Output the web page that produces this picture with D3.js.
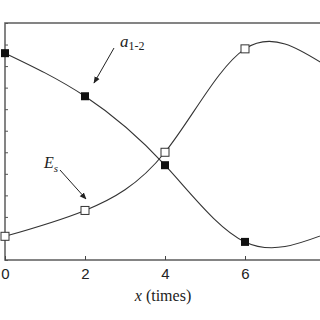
<!DOCTYPE html>
<html lang="en">
<head>
    <meta charset="UTF-8">
    <title>a1-2 and Es vs x</title>
    <style>
        body { margin: 0; padding: 0; background: #fff; overflow: hidden; }
        svg { display: block; font-family: "Liberation Serif", "DejaVu Serif", serif; }
        .tick text { font-size: 15px; fill: #222; }
    </style>
</head>
<body>
    <div id="chart"></div>
    <script src="https://d3js.org/d3.v7.min.js"></script>
    <script>
        // values (y in arbitrary units, 0..11)
        const xValues = [0, 2, 4, 6, 8];
        const aValues = [9.6, 7.6, 4.4, 0.84, 1.2];
        const esValues = [1.1, 2.3, 5.0, 9.8, 9.05];
        const xTicks = [0, 2, 4, 6]; // 8 sits past the right edge of the picture
        const yTicks = [0, 1, 2, 3, 4, 5, 6, 7, 8, 9, 10, 11];

        const width = 320, height = 320;
        const plotLeft = 5, plotRight = 325, plotTop = 23, plotBottom = 260;

        const svg = d3.select("#chart").append("svg")
            .attr("width", width)
            .attr("height", height);

        const x = d3.scaleLinear().domain([0, 8]).range([plotLeft, plotRight]);
        const y = d3.scaleLinear().domain([0, 11]).range([plotBottom, plotTop]);

        // frame
        svg.append("rect")
            .attr("x", plotLeft).attr("y", plotTop)
            .attr("width", plotRight - plotLeft).attr("height", plotBottom - plotTop)
            .attr("fill", "none")
            .attr("stroke", "#666")
            .attr("stroke-width", 1.6);

        // x axis
        const xAxis = svg.append("g")
            .attr("transform", `translate(0,${plotBottom})`)
            .call(d3.axisBottom(x).tickValues(xTicks).tickSize(-4).tickPadding(8).tickFormat(d3.format("d")));
        xAxis.select(".domain").remove();
        xAxis.selectAll(".tick line").attr("stroke", "#444");

        // y axis (ticks only, labels cut off)
        const yAxis = svg.append("g")
            .attr("transform", `translate(${plotLeft},0)`)
            .call(d3.axisLeft(y).tickValues(yTicks).tickSize(-3).tickFormat(""));
        yAxis.select(".domain").remove();
        yAxis.selectAll(".tick line").attr("stroke", "#555");

        const line = d3.line()
            .x((d, i) => x(xValues[i]))
            .y(d => y(d))
            .curve(d3.curveNatural);

        svg.append("path").datum(aValues)
            .attr("d", line)
            .attr("fill", "none").attr("stroke", "#333").attr("stroke-width", 1.1);
        svg.append("path").datum(esValues)
            .attr("d", line)
            .attr("fill", "none").attr("stroke", "#333").attr("stroke-width", 1.1);

        const sq = 8;
        svg.append("g").selectAll("rect")
            .data(aValues)
            .enter().append("rect")
            .attr("x", (d, i) => x(xValues[i]) - sq / 2)
            .attr("y", d => y(d) - sq / 2)
            .attr("width", sq).attr("height", sq)
            .attr("fill", "#111");
        svg.append("g").selectAll("rect")
            .data(esValues)
            .enter().append("rect")
            .attr("x", (d, i) => x(xValues[i]) - sq / 2)
            .attr("y", d => y(d) - sq / 2)
            .attr("width", sq).attr("height", sq)
            .attr("fill", "#fff").attr("stroke", "#333").attr("stroke-width", 1);

        // x label
        const xl = svg.append("text")
            .attr("x", 163).attr("y", 301)
            .attr("text-anchor", "middle")
            .attr("font-size", 16).attr("fill", "#222");
        xl.append("tspan").attr("font-style", "italic").text("x");
        xl.append("tspan").text(" (times)");

        // annotations
        svg.append("defs").append("marker")
            .attr("id", "arrow")
            .attr("viewBox", "0 0 10 10")
            .attr("refX", 9).attr("refY", 5)
            .attr("markerWidth", 7).attr("markerHeight", 7)
            .attr("orient", "auto")
            .append("path").attr("d", "M0,1L10,5L0,9Z").attr("fill", "#222");

        const a = svg.append("text").attr("x", 120).attr("y", 47).attr("fill", "#222");
        a.append("tspan").attr("font-style", "italic").attr("font-size", 17).text("a");
        a.append("tspan").attr("font-size", 12).attr("dy", 3).text("1-2");
        svg.append("line")
            .attr("x1", 114).attr("y1", 48).attr("x2", 94).attr("y2", 83)
            .attr("stroke", "#222").attr("stroke-width", 1)
            .attr("marker-end", "url(#arrow)");

        const e = svg.append("text").attr("x", 44).attr("y", 168).attr("fill", "#222");
        e.append("tspan").attr("font-style", "italic").attr("font-size", 16).text("E");
        e.append("tspan").attr("font-style", "italic").attr("font-size", 11).attr("dy", 4).text("s");
        svg.append("line")
            .attr("x1", 60).attr("y1", 170).attr("x2", 86).attr("y2", 199)
            .attr("stroke", "#222").attr("stroke-width", 1)
            .attr("marker-end", "url(#arrow)");
    </script>
</body>
</html>
